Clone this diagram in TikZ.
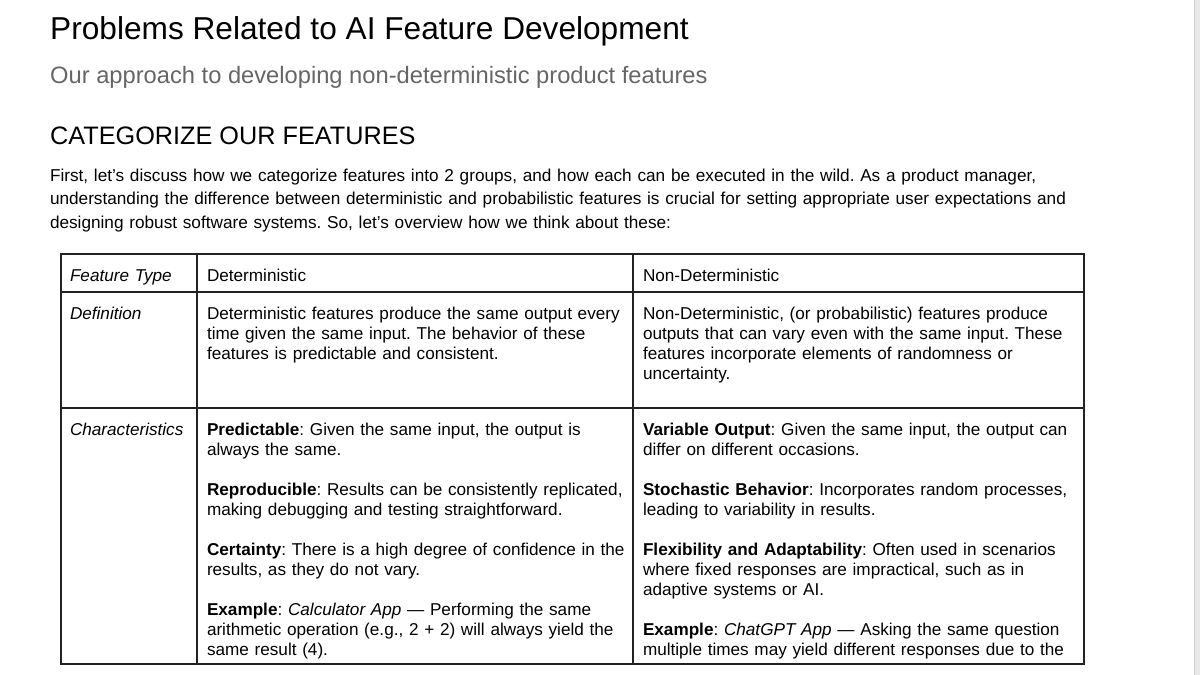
\documentclass[tikz,border=0pt]{standalone}
\usepackage{fontspec}
\setmainfont[Ligatures=NoCommon]{Liberation Sans}
\frenchspacing
\definecolor{subgray}{HTML}{666666}
\definecolor{rulegray}{HTML}{222222}
\definecolor{barfill}{HTML}{E9E9E9}
\definecolor{baredge}{HTML}{D0D0D0}
\begin{document}
\begin{tikzpicture}[x=1pt,y=-1pt,
  cell/.style={anchor=base west, inner sep=0pt, outer sep=0pt,
    font=\fontsize{17.15}{20}\selectfont\frenchspacing, text width=#1, align=left},
  cell/.default=440pt,
  body/.style={anchor=base west, inner sep=0pt, outer sep=0pt,
    font=\fontsize{17.2}{23.5}\selectfont\frenchspacing, text width=1100pt, align=left},
  grid/.style={draw=rulegray, line width=1.1pt},
]
\useasboundingbox (0,0) rectangle (1200,675);
\fill[white] (0,0) rectangle (1200,675);
% scrollbar strip
\fill[barfill] (1194,0) rectangle (1200,675);
\draw[baredge, line width=0.8pt] (1194,0) -- (1194,675);

% headings
\node[anchor=base west, inner sep=0pt, font=\fontsize{31.65}{36}\selectfont] (title) at (50,39) {Problems Related to AI Feature Development};
\node[anchor=base west, inner sep=0pt, text=subgray, font=\fontsize{23.7}{28}\selectfont] (subtitle) at (50,83) {Our approach to developing non-deterministic product features};
\node[anchor=base west, inner sep=0pt, font=\fontsize{25.25}{29}\selectfont] (heading) at (50,144) {CATEGORIZE OUR FEATURES};

\node[body] (intro) at (50,181) {First, let’s discuss how we categorize features into 2 groups, and how each can be executed in the wild. As a product manager,\\
understanding the difference between deterministic and probabilistic features is crucial for setting appropriate user expectations and\\
designing robust software systems. So, let’s overview how we think about these:};

% table grid
\draw[grid] (61,254) rectangle (1084,664);
\draw[grid] (61,292) -- (1084,292);
\draw[grid] (61,408) -- (1084,408);
\draw[grid] (197,254) -- (197,664);
\draw[grid] (633,254) -- (633,664);

% header row
\node[cell=120pt] (h1) at (70,281) {\itshape Feature Type};
\node[cell] (h2) at (207,281) {Deterministic};
\node[cell] (h3) at (643,281) {Non-Deterministic};

% definition row
\node[cell=120pt] (d1) at (70,319) {\itshape Definition};
\node[cell] (d2) at (207,319) {Deterministic features produce the same output every\\
time given the same input. The behavior of these\\
features is predictable and consistent.};
\node[cell] (d3) at (643,319) {Non-Deterministic, (or probabilistic) features produce\\
outputs that can vary even with the same input. These\\
features incorporate elements of randomness or\\
uncertainty.};

% characteristics row
\node[cell=130pt] (c1) at (70,435) {\itshape Characteristics};
\node[cell] (c2a) at (207,435) {\textbf{Predictable}: Given the same input, the output is\\
always the same.};
\node[cell] (c2b) at (207,495) {\textbf{Reproducible}: Results can be consistently replicated,\\
making debugging and testing straightforward.};
\node[cell] (c2c) at (207,555) {\textbf{Certainty}: There is a high degree of confidence in the\\
results, as they do not vary.};
\node[cell] (c2d) at (207,615) {\textbf{Example}: \textit{Calculator App} — Performing the same\\
arithmetic operation (e.g., 2 + 2) will always yield the\\
same result (4).};

\node[cell] (c3a) at (643,435) {\textbf{Variable Output}: Given the same input, the output can\\
differ on different occasions.};
\node[cell] (c3b) at (643,495) {\textbf{Stochastic Behavior}: Incorporates random processes,\\
leading to variability in results.};
\node[cell] (c3c) at (643,555) {\textbf{Flexibility and Adaptability}: Often used in scenarios\\
where fixed responses are impractical, such as in\\
adaptive systems or AI.};
\node[cell] (c3d) at (643,635) {\textbf{Example}: \textit{ChatGPT App} — Asking the same question\\
multiple times may yield different responses due to the};
\end{tikzpicture}
\end{document}
